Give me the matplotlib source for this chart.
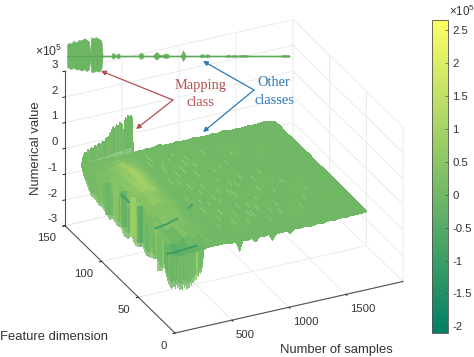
import numpy as np
import matplotlib
matplotlib.use("Agg")
import matplotlib.pyplot as plt
from matplotlib.patches import FancyArrowPatch
from matplotlib.colors import Normalize
from matplotlib.cm import ScalarMappable
from mpl_toolkits.mplot3d import proj3d

plt.rcParams.update({'font.family': 'Liberation Sans', 'axes.unicode_minus': False,
                     'mathtext.fontset': 'custom', 'mathtext.rm': 'Liberation Sans',
                     'mathtext.default': 'regular'})

# ---- values, in units of 1e5 ----
x_ticks = [500, 1000, 1500]
y_ticks = [0, 50, 100, 150]
z_ticks = [-3, -2, -1, 0, 1, 2, 3]
cbar_ticks = [-2, -1.5, -1, -0.5, 0, 0.5, 1, 1.5, 2, 2.5]
cbar_labels = ['-2', '-1.5', '-1', '-0.5', '0', '0.5', '1', '1.5', '2', '2.5']

map_x = [1, 40, 80, 120, 170, 220, 260, 300, 350, 400, 445, 460]
map_y = [1, 8, 16, 30, 44, 58, 72, 86, 100, 112, 120, 127]
map_z = [
    [-.30, -.35, -.30, -.25, -.30, -.25, -.10, 0, 0, 0, 0, 0],
    [-.30, -.50, -.45, -.30, -.35, -.20, -.20, .1, .02, 0, 0, 0],
    [.50, -.35, -.15, -.50, .20, .35, -.30, .30, 0, .02, 0, 0],
    [.10, .60, .35, -.10, .45, .20, .55, .05, .15, 0, .03, 0],
    [.40, -.30, -.30, .70, .55, .10, .15, .50, .05, 0, 0, 0],
    [.05, .50, .65, .10, .15, .55, .30, .20, .25, .05, 0, 0],
    [.50, -.15, .10, .45, .75, .90, .65, .60, .20, .05, .02, 0],
    [-.10, .35, .60, .20, .55, .95, 1.0, .60, .45, .10, .03, 0],
    [.35, .10, .25, .55, .30, .85, 1.0, .75, .45, .15, .05, 0],
    [.10, .30, .05, .20, .40, .50, .70, .35, .30, .20, .10, 0],
    [.15, .10, .20, .05, .20, .10, .25, .15, .15, .10, .05, 0],
    [.05, .10, .05, .10, .05, .10, .05, .10, .05, .05, .05, 0],
]

flat_x = [460, 560, 660, 760, 860, 960, 1060, 1160, 1260, 1360, 1460, 1560, 1640, 1690]
flat_y = [1, 10, 20, 32, 45, 58, 70, 82, 95, 105, 115, 127]
flat_z = [
    [0, -.04, .02, -.05, .03, -.03, .04, -.02, .02, -.04, .01, -.02, 0, 0],
    [.06, -.05, .08, 0, -.06, .07, -.03, .06, -.02, .04, -.03, .02, .01, 0],
    [-.04, .09, -.03, .10, .02, -.06, .08, 0, .05, -.04, .04, 0, .02, 0],
    [.09, -.06, .12, -.05, .09, .03, -.05, .07, -.03, .05, 0, .03, 0, 0],
    [-.02, .11, -.04, .08, -.06, .10, .04, -.04, .06, 0, .04, -.02, .01, 0],
    [.12, -.05, .09, -.03, .11, -.05, .07, .02, -.03, .05, -.02, .03, 0, 0],
    [-.05, .10, -.02, .12, -.04, .08, -.04, .06, .03, -.03, .04, 0, .01, 0],
    [.10, -.03, .13, -.05, .09, 0, .07, -.04, .05, .01, -.02, .03, 0, 0],
    [-.03, .12, -.05, .10, -.02, .08, -.03, .06, -.02, .04, .02, 0, .01, 0],
    [.08, -.02, .09, 0, .06, -.04, .05, .01, .04, -.02, .03, .01, 0, 0],
    [-.02, .07, -.03, .06, .01, .05, -.02, .04, 0, .03, 0, .02, 0, 0],
    [.02, 0, .03, -.01, .02, 0, .02, 0, .01, 0, .01, 0, 0, 0],
]

back_x = [1, 15, 25, 40, 55, 70, 85, 100, 115, 130, 150, 165, 180, 200, 215, 230, 245, 260, 275, 290, 305, 320, 335, 350, 362, 368, 374, 385, 395, 405, 420, 435, 445, 450]
back_top = [.1, .35, .45, .40, .55, .48, .58, .50, .62, .55, .70, .62, .72, .68, .85, .78, .95, 1.05, 1.2, 1.05, 1.25, 1.15, 1.3, 1.25, 1.0, .15, 1.3, 1.45, 1.35, 1.5, 1.42, 1.5, 1.3, .05]
back_tone = [.05, .1, 0, .15, .05, .1, -.05, .1, .05, .15, 0, .1, -.05, .05, .1, -.05, .15, 0, -.1, .1, -.05, .1, 0, .1, -.05, .3, 0, .05, -.1, .05, -.05, .1, 0, .1]

left_y = [1, 5, 9, 14, 19, 24, 29, 34, 39, 44, 49, 54, 59, 64, 69, 74, 79, 84, 89, 94, 99, 104, 109, 114, 119, 124, 127]
left_low = [-1.15, -1.4, -1.3, -.85, -.95, -.8, -.9, -1.0, -1.05, -.85, -1.0, -1.1, -.85, -1.1, -1.15, -.95, -1.0, -.9, -1.05, -.95, -.85, -.9, -.8, -.85, -.6, -.35, -.1]
left_tone = [-.1, .05, -.2, .6, .1, -.3, .35, -.2, .05, -.3, .4, .05, -.1, .1, .35, -.1, .15, 0, .1, .05, 0, .1, .05, .1, .05, 0, .1]

front_x = [1, 10, 20, 30, 40, 50, 60, 70, 80, 90, 100, 110, 120, 130, 140, 150, 160, 170, 180, 190, 200, 210, 220, 230, 240, 248, 256]
front_low = [-1.15, -1.3, -1.05, -1.3, -1.1, -1.4, -1.2, -1.42, -1.1, -1.35, -1.15, -1.45, -1.2, -1.4, -1.1, -1.35, -1.1, -1.25, -1.0, -1.15, -.9, -1.05, -.85, -.95, -.75, -.7, -.05]
front_tone = [.05, -.1, 0, .1, -.05, .05, .1, -.1, .05, 0, -.05, .1, .05, 0, .1, -.05, .1, .05, .1, .75, .05, .15, -.05, .1, .2, 0, 0]

# thin curtains along the flat part of the surface
edge_x = [460, 500, 540, 575, 600, 640, 680, 715, 750, 790, 830, 860, 900, 940, 980, 1020, 1060, 1100, 1150, 1200, 1250, 1300, 1350, 1400, 1450, 1500, 1550, 1600, 1650, 1690]
edge_front = [-.03, -.06, -.03, -.42, -.05, -.08, -.03, -.2, -.04, -.07, -.03, -.28, -.05, -.08, -.03, -.18, -.04, -.07, -.03, -.09, -.04, -.07, -.03, -.06, -.02, -.05, -.02, -.03, -.02, 0]
edge_back = [.02, .05, .03, .07, .03, .06, .12, .04, .05, .03, .08, .03, .06, .03, .1, .04, .05, .03, .07, .04, .09, .03, .05, .03, .06, .04, .05, .07, .04, 0]
edge_y = [1, 12, 24, 34, 46, 57, 68, 79, 90, 100, 110, 120, 127]
edge_right = [0, .03, .01, .04, .02, .05, .01, .05, .02, .04, .01, .04, 0]

# vertical colour bands seen in front of the mapping class
band_x = [20, 20, 20, 20, 20, 20, 20, 20, 20, 20]
band_y = [105, 94, 84, 73, 60, 55, 51, 37, 28, 23]
band_top = [.15, .25, .36, .46, .61, .55, .50, .49, .48, .48]
band_low = [-.9, -1.05, -.95, -.95, -.95, -1.0, -.95, -.8, -.85, -1.25]
band_tone = [.25, -.1, .5, -.3, .95, .7, -.5, .1, .45, .1]

streak_x = [[30, 80, 130, 180, 240, 300], [53, 110, 170, 235, 297], [64, 64], [440, 470, 500]]
streak_y = [[16, 16, 16, 16, 16, 16], [36, 37, 38, 40, 42], [72, 84], [50, 52, 54]]
streak_z = [[-.4, -.42, -.4, -.38, -.36, -.35], [0, 0, 0, 0, 0], [0, 0], [0, 0, 0]]
streak_tone = [-1.0, -.85, -.9, -.8]

speck_x = [520, 540, 560, 590, 610, 640, 680, 700, 720, 750, 780, 810, 850, 870, 900, 930, 960, 990, 1030, 1080,
           500, 530, 580, 620, 660, 730, 770, 830, 880, 940, 1010, 1100, 1180, 1260, 1340, 505, 555, 600, 655, 695,
           745, 800, 845, 915, 975, 1045, 1120, 1210, 1300, 1420, 480, 525, 570, 635, 710, 790, 860, 950, 1070, 1150]
speck_y = [112, 95, 78, 105, 88, 62, 90, 70, 48, 82, 60, 38, 72, 50, 84, 30, 62, 42, 70, 52,
           60, 40, 28, 48, 20, 30, 18, 25, 35, 15, 25, 30, 45, 22, 30, 82, 100, 70, 108, 52,
           100, 95, 55, 65, 88, 90, 65, 72, 55, 40, 105, 20, 52, 35, 112, 105, 25, 108, 20, 100]
speck_len = [8, 5, 6, 4, 7, 5, 9, 4, 5, 8, 4, 6, 5, 9, 4, 5, 7, 4, 5, 6, 4, 7, 5, 4, 6, 5, 4, 7, 5, 4, 5, 6, 4, 5, 4, 6, 5, 8, 4, 5, 6, 4, 7, 5, 4, 5, 6, 4, 5, 4, 7, 4, 5, 6, 4, 5, 6, 4, 5, 4]

side_x = [0, 15, 30, 50, 70, 90, 110, 130, 150, 168, 172, 176, 182, 200, 220, 240, 255, 264, 270, 300, 335, 342, 349, 356, 372, 380, 387, 394, 402, 430, 540, 550, 561, 572, 582, 600, 650, 660, 675, 690, 700, 725, 735, 750, 765, 775, 800, 860, 870, 879, 890, 900, 1000, 1010, 1023, 1036, 1048, 1061, 1074, 1085, 1200, 1213, 1226, 1240, 1266, 1290, 1320, 1350, 1380, 1620, 1635, 1650, 1675, 1685, 1690]
side_up = [.45, .5, .48, .58, .52, .62, .6, .68, .62, .55, .15, .25, .72, .68, .72, .66, .62, .5, .02, .02, .02, .1, .12, .1, .02, .09, .1, .09, .02, .02, .02, .1, .13, .1, .02, .02, .02, .07, .15, .12, .05, .05, .08, .1, .08, .02, .02, .02, .12, .22, .12, .02, .02, .05, .08, .05, .03, .08, .05, .02, .02, .05, .06, .02, .05, .02, .05, .05, .02, .02, .05, .05, .05, .02, 0]
side_dn = [-.42, -.46, -.5, -.44, -.52, -.5, -.56, -.5, -.58, -.5, -.15, -.25, -.6, -.62, -.56, -.6, -.54, -.4, -.02, -.02, -.02, -.08, -.11, -.08, -.02, -.08, -.09, -.08, -.02, -.02, -.02, -.08, -.12, -.08, -.02, -.02, -.02, -.06, -.14, -.1, -.04, -.04, -.07, -.08, -.07, -.02, -.02, -.02, -.1, -.2, -.1, -.02, -.02, -.04, -.06, -.04, -.03, -.06, -.04, -.02, -.02, -.04, -.05, -.02, -.04, -.02, -.04, -.04, -.02, -.02, -.04, -.04, -.04, -.02, 0]

# ---- layout helpers (pixel positions in the 474x357 picture) ----
W, H = 474, 357
def fx(px): return px / W
def fy(py): return 1 - py / H

fig = plt.figure(figsize=(W / 100, H / 100), dpi=100, facecolor='white')
ax = fig.add_axes([0, 0, 1, 1], projection='3d', proj_type='ortho', computed_zorder=False)
ax.patch.set_alpha(0)
ax.view_init(elev=28, azim=-115.7)
ax.set_xlim(0, 2000); ax.set_ylim(0, 150); ax.set_zlim(-3, 3)
ax.set_box_aspect((253, 253.6, 175), zoom=1.0)

cmap = plt.get_cmap('summer')
norm = Normalize(-2.1, 2.65)

def surface(xs, ys, zs, z, relief=1.0):
    X, Y = np.meshgrid(xs, ys)
    c = np.array(zs)
    m = .25 * (c[:-1, :-1] + c[1:, :-1] + c[:-1, 1:] + c[1:, 1:])
    fc = np.ones(c.shape + (4,))
    fc[:-1, :-1] = cmap(norm(m))
    ax.plot_surface(X, Y, c * relief, facecolors=fc, rstride=1, cstride=1,
                    linewidth=0, antialiased=False, shade=False, zorder=z)

surface(flat_x, flat_y, flat_z, 1, relief=.2)
for sx, sy, sl in zip(speck_x, speck_y, speck_len):
    ax.plot([sx, sx], [sy, sy + sl], [.02, .02], color='#a3d68c', lw=.45, zorder=2)

def wall(xs, ys, top, low, tone, z, pale=.18):
    xs, ys, top, low = map(np.asarray, (xs, ys, top, low))
    zz = np.vstack([top, top + .82 * (low - top), low])
    XX = np.vstack([xs] * 3).astype(float); YY = np.vstack([ys] * 3).astype(float)
    col = cmap(norm(np.asarray(tone)))
    fc = np.stack([col, col * (1 - pale) + pale, col], axis=0)
    fc[..., 3] = 1
    ax.plot_surface(XX, YY, zz, facecolors=fc, rstride=1, cstride=1, linewidth=0,
                    antialiased=False, shade=False, zorder=z)

map_arr = np.array(map_z)
rel = .35
zero_tone = np.zeros(len(edge_x))
wall(back_x, [127] * len(back_x), back_top, np.zeros(len(back_x)), back_tone, 3)
wall(edge_x, [127] * len(edge_x), edge_back, np.zeros(len(edge_x)), zero_tone, 3, pale=0)
wall([1690] * len(edge_y), edge_y, edge_right, np.zeros(len(edge_y)), np.zeros(len(edge_y)), 3, pale=0)
surface(map_x, map_y, map_z, 4, relief=rel)
wall([1] * len(left_y), left_y, np.interp(left_y, map_y, map_arr[:, 0]) * rel, left_low, left_tone, 5)
wall(front_x, [1] * len(front_x), np.interp(front_x, map_x, map_arr[0]) * rel, front_low, front_tone, 6)
wall(edge_x, [1] * len(edge_x), np.zeros(len(edge_x)), edge_front, zero_tone, 6, pale=.1)
for bx, by, bt, bl, t in zip(band_x, band_y, band_top, band_low, band_tone):
    ax.plot([bx, bx], [by, by], [bt, bl], color=cmap(norm(t)), lw=4.2, solid_capstyle='butt', alpha=.8, zorder=7)
for sx, sy, sz, t in zip(streak_x, streak_y, streak_z, streak_tone):
    ax.plot(sx, sy, sz, color=cmap(norm(t)), lw=1.5, solid_capstyle='butt', zorder=8)

# axes styling
ax.set_xticks(x_ticks); ax.set_yticks(y_ticks); ax.set_zticks(z_ticks)
ax.set_xticklabels([str(v) for v in x_ticks], ha='left')
ax.set_yticklabels([str(v) for v in y_ticks], ha='right')
ax.set_zticklabels([str(v) for v in z_ticks], ha='right', va='bottom')
for a in (ax.xaxis, ax.yaxis, ax.zaxis):
    a.set_pane_color((1, 1, 1, 0))
    a.pane.set_edgecolor((1, 1, 1, 0))
    a.line.set_color('#505050'); a.line.set_linewidth(.8)
    a._axinfo['grid'].update(color='#e8e8e8', linewidth=.6)
    a._axinfo['tick'].update(inward_factor=.12, outward_factor=0, linewidth={True: .6, False: .6}, color='#505050')
ax.tick_params(axis='both', labelsize=8.2, labelcolor='#333333', pad=-3)
ax.tick_params(axis='z', pad=-5)
ax.zaxis.set_ticks_position('upper')
ax.zaxis.set_label_position('upper')
ax.grid(True)

# fit the projected box onto the reference pixels
def to_px(x, y, z):
    fig.canvas.draw()
    p = proj3d.proj_transform(x, y, z, ax.get_proj())
    d = ax.transData.transform((p[0], p[1]))
    return d[0], H - d[1]
a0 = to_px(0, 0, -3); a1 = to_px(2000, 0, -3)
ax.set_box_aspect((253, 253.6, 175), zoom=228.0 / (a1[0] - a0[0]))
a0 = to_px(0, 0, -3)
pos = ax.get_position(original=True)
ax.set_position([pos.x0 + (175 - a0[0]) / W, pos.y0 - (333 - a0[1]) / H, pos.width, pos.height])

# side-view strip at the top
strip = fig.add_axes([fx(67), fy(77), fx(223), (77 - 35) / H])
strip.set_axis_off(); strip.patch.set_alpha(0)
strip.fill_between(side_x, side_dn, side_up, color='#6cb562', lw=.3)
strip.plot(side_x, [0] * len(side_x), color='#5aa858', lw=.9)
strip.set_xlim(0, 1690); strip.set_ylim(-.8, .8)

# colour bar
cax = fig.add_axes([fx(432), fy(333), 16 / W, (333 - 20) / H])
cb = fig.colorbar(ScalarMappable(norm=norm, cmap=cmap), cax=cax)
cb.set_ticks(cbar_ticks); cb.set_ticklabels(cbar_labels)
cb.ax.tick_params(direction='in', length=2.5, width=.5, labelsize=8.2, labelcolor='#333333', color='#505050', pad=3, right=True)
cb.outline.set_edgecolor('#505050'); cb.outline.set_linewidth(.6)

# text
dark = '#333333'
fig.text(fx(336), fy(350), 'Number of samples', ha='center', va='center', fontsize=9.4, color=dark)
fig.text(fx(0), fy(337), 'Feature dimension', ha='left', va='center', fontsize=9.4, color=dark)
fig.text(fx(36), fy(148), 'Numerical value', ha='center', va='center', rotation=90, fontsize=9.4, color=dark)
fig.text(fx(62), fy(51), r'$\times 10^{5}$', ha='right', va='center', fontsize=8.8, color=dark)
fig.text(fx(449), fy(11), r'$\times 10^{5}$', ha='left', va='center', fontsize=8.4, color=dark)

red, blue = '#b5504f', '#2a79b9'
serif = 'Liberation Serif'
fig.text(fx(201), fy(85), 'Mapping', color=red, family=serif, fontsize=10.4, ha='center', va='center')
fig.text(fx(200), fy(102), 'class', color=red, family=serif, fontsize=10.4, ha='center', va='center')
fig.text(fx(274), fy(83), 'Other', color=blue, family=serif, fontsize=10.4, ha='center', va='center')
fig.text(fx(274), fy(101), 'classes', color=blue, family=serif, fontsize=10.4, ha='center', va='center')
for (a, b, c) in [((173, 100), (101, 71), red), ((173, 100), (136, 129), red),
                  ((254, 90), (203, 61), blue), ((254, 90), (203, 132), blue)]:
    fig.add_artist(FancyArrowPatch((fx(a[0]), fy(a[1])), (fx(b[0]), fy(b[1])), transform=fig.transFigure,
                                   arrowstyle='-|>', mutation_scale=7, color=c, lw=.9, shrinkA=0, shrinkB=0))

fig.savefig('out.png', dpi=100)
